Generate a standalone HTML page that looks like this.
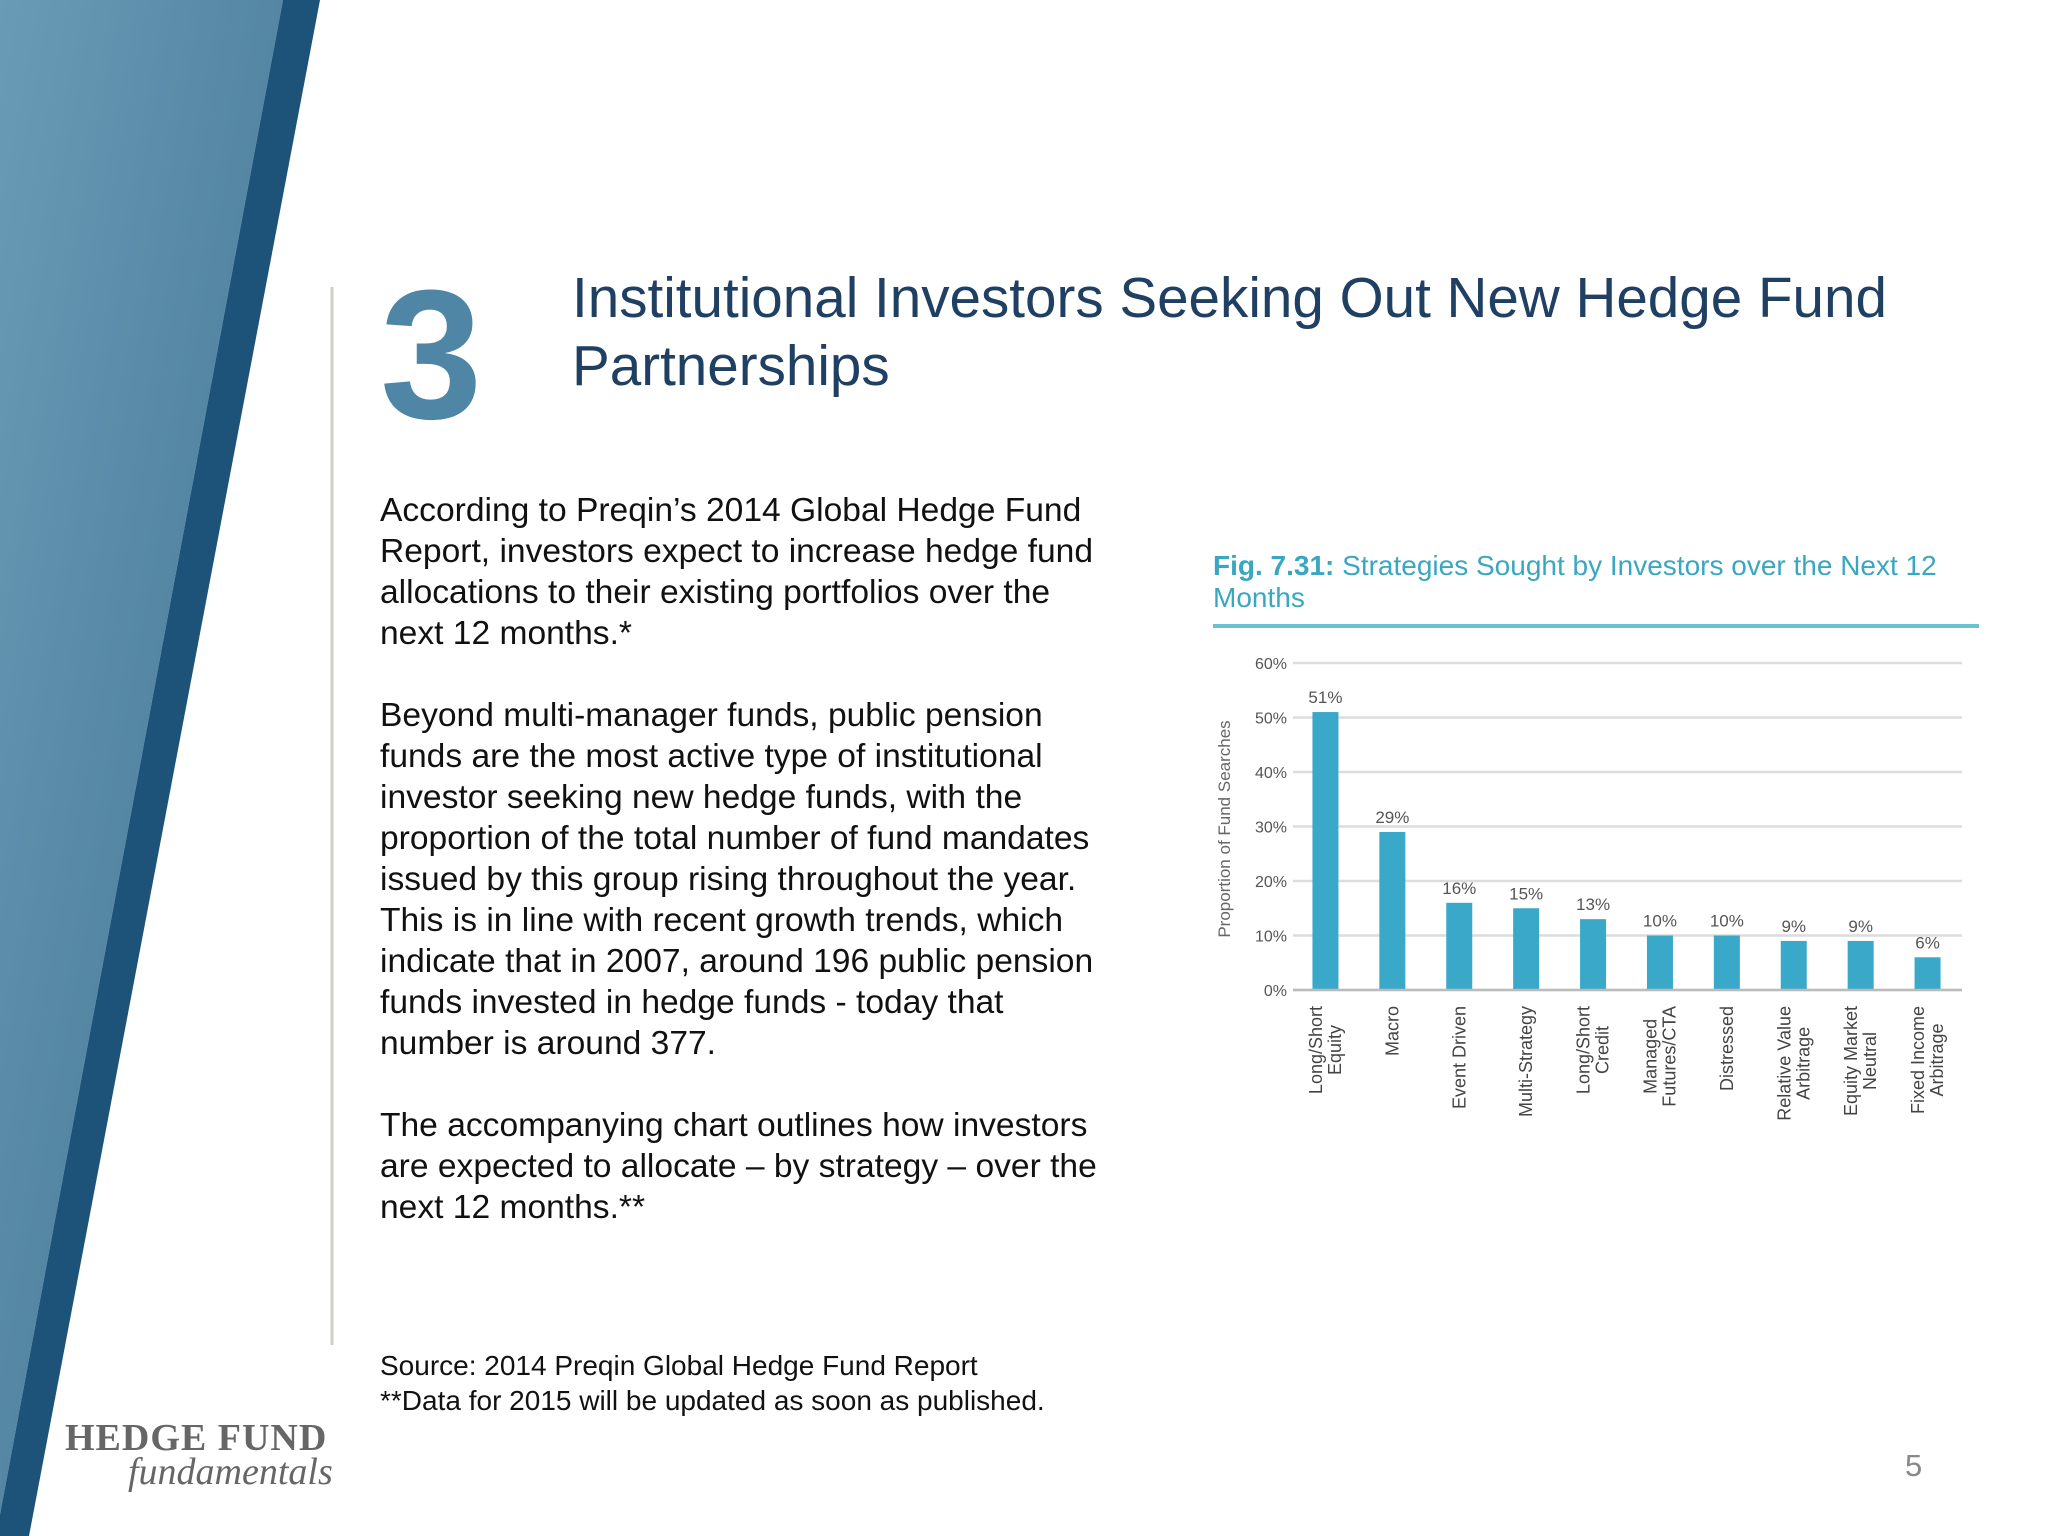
<!DOCTYPE html>
<html><head><meta charset="utf-8"><style>
body{margin:0;width:2048px;height:1536px;position:relative;background:#fff;overflow:hidden;font-family:"Liberation Sans",sans-serif}
.a{position:absolute;white-space:nowrap}
.body p{margin:0 0 41px 0}
</style></head><body>
<svg class="a" style="left:0;top:0" width="2048" height="1536">
<defs><linearGradient id="g" x1="0" y1="0" x2="1" y2="1"><stop offset="0" stop-color="#6a9bb6"/><stop offset="1" stop-color="#3f7393"/></linearGradient></defs>
<polygon points="0,0 283,0 -4,1536 0,1536" fill="url(#g)"/>
<polygon points="283,0 320,0 29,1536 -4,1536" fill="#1d5378"/>
<line x1="332" y1="287" x2="332" y2="1345" stroke="#d0cec8" stroke-width="3"/>
</svg>
<div class="a" style="left:380px;top:262px;font-size:184px;font-weight:bold;color:#4f86a6;line-height:184px">3</div>
<div class="a" style="left:572px;top:264px;font-size:56.6px;color:#1f3f63;line-height:68px">Institutional Investors Seeking Out New Hedge Fund<br>Partnerships</div>
<div class="a body" style="left:380px;top:490px;font-size:33.6px;line-height:41px;color:#111">
<p>According to Preqin’s 2014 Global Hedge Fund<br>Report, investors expect to increase hedge fund<br>allocations to their existing portfolios over the<br>next 12 months.*</p>
<p>Beyond multi-manager funds, public pension<br>funds are the most active type of institutional<br>investor seeking new hedge funds, with the<br>proportion of the total number of fund mandates<br>issued by this group rising throughout the year.<br>This is in line with recent growth trends, which<br>indicate that in 2007, around 196 public pension<br>funds invested in hedge funds - today that<br>number is around 377.</p>
<p>The accompanying chart outlines how investors<br>are expected to allocate – by strategy – over the<br>next 12 months.**</p>
</div>
<div class="a" style="left:380px;top:1348px;font-size:28px;line-height:35px;color:#111">Source: 2014 Preqin Global Hedge Fund Report<br>**Data for 2015 will be updated as soon as published.</div>
<div class="a" style="left:1905px;top:1448px;font-size:31px;color:#888">5</div>
<div class="a" style="left:65px;top:1416px;font-family:'Liberation Serif',serif;font-weight:bold;font-size:38px;color:#666;letter-spacing:1px">HEDGE FUND</div>
<div class="a" style="left:128px;top:1450px;font-family:'Liberation Serif',serif;font-style:italic;font-size:38px;color:#666">fundamentals</div>
<div class="a" style="left:1213px;top:550px;font-size:28px;line-height:32px;color:#3aa7c0"><b>Fig. 7.31:</b> Strategies Sought by Investors over the Next 12<br>Months</div>
<svg class="a" id="chart" style="left:0;top:0" width="2048" height="1536"></svg>
<script>
const categories=[["Long/Short","Equity"],["Macro"],["Event Driven"],["Multi-Strategy"],["Long/Short","Credit"],["Managed","Futures/CTA"],["Distressed"],["Relative Value","Arbitrage"],["Equity Market","Neutral"],["Fixed Income","Arbitrage"]];
const values=[51,29,16,15,13,10,10,9,9,6];
const yTicks=[0,10,20,30,40,50,60];
const NS="http://www.w3.org/2000/svg";
const svg=document.getElementById('chart');
const x0=1293,x1=1962,yb=990,yt=663,ymax=60;
const y=v=>yb-(v/ymax)*(yb-yt);
const step=(x1-x0)/categories.length;
const xc=i=>x0+step*(i+0.5)-1;
function mk(t,a){const e=document.createElementNS(NS,t);for(const k in a)e.setAttribute(k,a[k]);svg.appendChild(e);return e;}
const rule=mk('line',{x1:1213,y1:626,x2:1979,y2:626,stroke:'#6cc0d2','stroke-width':4});


yTicks.forEach(t=>{
 const g=mk('line',{x1:x0,y1:y(t),x2:x1,y2:y(t),stroke:'#dcdcdc','stroke-width':2.5});
 
 
 const l=mk('text',{x:x0-6,y:y(t)+6,'font-size':16,fill:'#555','text-anchor':'end','font-family':'Liberation Sans'});
 l.textContent=t+'%';
 
 
});
const yt2=mk('text',{transform:'translate(1230,829) rotate(-90)','font-size':17,fill:'#666','text-anchor':'middle','font-family':'Liberation Sans'});
yt2.textContent='Proportion of Fund Searches';


values.forEach((v,i)=>{
 const b=mk('rect',{x:xc(i)-13,y:y(v),width:26,height:yb-y(v),fill:'#3aa8c8'});
 
 
 const t=mk('text',{x:xc(i),y:y(v)-9,'font-size':17,fill:'#555','text-anchor':'middle','font-family':'Liberation Sans'});
 t.textContent=v+'%';
 
 
 const lines=categories[i];
 const els=lines.map((s,j)=>{
  const off=(j-(lines.length-1)/2)*19+6;
  const c=mk('text',{'font-size':18,fill:'#444','text-anchor':'middle','font-family':'Liberation Sans'});
  c.textContent=s;
  
  
  return [c,off];
 });
 const maxW=Math.max(...els.map(e=>e[0].getComputedTextLength()));
 els.forEach(([c,off])=>{c.setAttribute('transform',`translate(${xc(i)+off},${1006+maxW/2}) rotate(-90)`);});
});
const ax=mk('line',{x1:x0,y1:yb,x2:x1,y2:yb,stroke:'#bbb','stroke-width':2.5});


</script>
</body></html>
